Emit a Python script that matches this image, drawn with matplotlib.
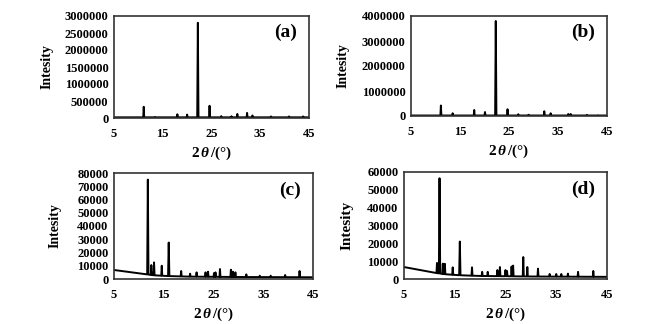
import matplotlib
matplotlib.use('Agg')
import matplotlib.pyplot as plt
import numpy as np

plt.rcParams['font.family'] = 'Liberation Serif'
plt.rcParams['mathtext.fontset'] = 'custom'
plt.rcParams['mathtext.rm'] = 'Liberation Serif:bold'
plt.rcParams['mathtext.it'] = 'Liberation Serif:italic:bold'
plt.rcParams['mathtext.bf'] = 'Liberation Serif:bold'

# peak positions (2theta) and heights
a_pos = [11.1, 13.4, 18.0, 20.0, 22.2, 24.6, 27.0, 29.1, 30.3, 32.3, 33.4, 37.2, 40.9, 43.8]
a_hgt = [330000, 30000, 110000, 100000, 2800000, 360000, 55000, 50000, 120000, 150000, 75000, 45000, 45000, 45000]
a_base_x = [5, 45]
a_base_y = [20000, 20000]

b_pos = [11.1, 13.5, 17.9, 20.1, 22.3, 24.7, 26.9, 29.0, 32.2, 33.5, 37.1, 37.6, 40.9, 43.2]
b_hgt = [420000, 110000, 240000, 160000, 3800000, 270000, 70000, 50000, 190000, 110000, 80000, 80000, 45000, 30000]
b_base_x = [5, 45]
b_base_y = [20000, 20000]

c_pos = [11.8, 12.5, 13.05, 14.6, 16.0, 18.5, 20.3, 21.6, 23.4, 23.9, 25.1, 25.4, 26.3,
         28.5, 28.9, 29.4, 31.6, 34.3, 36.5, 39.4, 42.3]
c_hgt = [75000, 10500, 12500, 10000, 27500, 6000, 4000, 5000, 5000, 5500, 4500, 5000, 7500,
         7000, 5500, 5000, 3500, 2500, 2500, 3000, 6000]
c_base_x = [5, 7, 9, 11, 13, 16, 20, 30, 45]
c_base_y = [6800, 5600, 4600, 3800, 2800, 2200, 1800, 1500, 1300]

d_pos = [11.5, 12.0, 12.65, 13.05, 14.6, 16.0, 18.4, 20.4, 21.5, 23.4, 23.9, 25.0, 25.3,
         26.2, 26.5, 28.5, 29.3, 31.4, 33.7, 35.0, 36.0, 37.3, 39.3, 42.3]
d_hgt = [9000, 56500, 8600, 8500, 6500, 21000, 6500, 4000, 4000, 5000, 6700, 5000, 4500,
         7000, 7500, 12300, 6700, 5800, 2800, 2800, 2800, 3000, 4000, 4500]
d_base_x = [5, 7, 9, 11, 13, 16, 20, 30, 45]
d_base_y = [6700, 5400, 4300, 3500, 2700, 2100, 1700, 1400, 1200]

panels = [
    ('(a)', a_pos, a_hgt, a_base_x, a_base_y, 3000000, 500000, [114, 16, 309, 118], 47),
    ('(b)', b_pos, b_hgt, b_base_x, b_base_y, 4000000, 1000000, [411, 16, 607, 116], 343),
    ('(c)', c_pos, c_hgt, c_base_x, c_base_y, 80000, 10000, [114, 173, 313, 279], 55),
    ('(d)', d_pos, d_hgt, d_base_x, d_base_y, 60000, 10000, [404, 172, 607, 279], 347),
]

W, H = 648, 324
fig = plt.figure(figsize=(W / 100, H / 100), dpi=100)

for tag, pos, hgt, bx, by, ymax, ystep, box, ylab_x in panels:
    x0, y0, x1, y1 = box
    ax = fig.add_axes([x0 / W, 1 - y1 / H, (x1 - x0) / W, (y1 - y0) / H])
    # build a spiky profile: baseline plus narrow triangles at each peak
    xs = [bx[0]]
    ys = [by[0]]
    for p, h in sorted(zip(pos, hgt)):
        hw = 0.13 if h > 0.3 * ymax else 0.1
        for xx, yy in [(p - hw, None), (p, h), (p + hw, None)]:
            xs.append(xx)
            ys.append(yy)
    xs.append(bx[-1])
    ys.append(None)
    xs = np.array(xs)
    base = np.interp(xs, bx, by)
    ys = np.array([base[i] if v is None else v for i, v in enumerate(ys)])
    ax.plot(xs, ys, color='black', lw=1.4)
    ax.set_xlim(5, 45)
    ax.set_ylim(0, ymax)
    ax.set_xticks([5, 15, 25, 35, 45])
    ax.set_yticks(np.arange(0, ymax + 1, ystep))
    ax.set_yticklabels([str(int(v)) for v in np.arange(0, ymax + 1, ystep)])
    ax.tick_params(length=0, labelsize=9, pad=4)
    ax.tick_params(axis='x', pad=7)
    for lab in ax.get_xticklabels() + ax.get_yticklabels():
        lab.set_fontweight('bold')
    for s in ax.spines.values():
        s.set_color('#333333')
        s.set_linewidth(1.2)
    ax.text(0.94, 0.84, tag, transform=ax.transAxes, ha='right', va='center',
            fontsize=14, fontweight='bold')
    yc = 1 - (y0 + y1) / 2 / H
    fig.text(ylab_x / W, yc, 'Intesity', rotation=90, ha='center', va='center',
             fontsize=10 if tag != '(d)' else 11, fontweight='bold')
    fig.text((x0 + x1) / 2 / W, 1 - (y1 + 35) / H, r'2$\,\theta\,$/(°)', ha='center',
             va='center', fontsize=11, fontweight='bold')

fig.savefig('out.png', dpi=100)
